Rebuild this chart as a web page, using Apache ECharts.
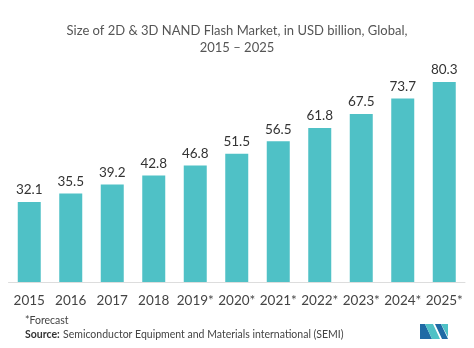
<!DOCTYPE html>
<html><head><meta charset="utf-8">
<script src="https://cdn.jsdelivr.net/npm/echarts@6/dist/echarts.min.js"></script>
<style>html,body{margin:0;padding:0;background:#fff}#c{width:474px;height:348px}</style>
</head><body><div id="c"></div>
<script>
const categories = ['2015','2016','2017','2018','2019*','2020*','2021*','2022*','2023*','2024*','2025*'];
const values = [32.1,35.5,39.2,42.8,46.8,51.5,56.5,61.8,67.5,73.7,80.3];
const titleLines = 'Size of 2D & 3D NAND Flash Market, in USD billion, Global,\n2015 – 2025';
const chart = echarts.init(document.getElementById('c'), null, {renderer:'canvas'});
const F = 'Lato, "Open Sans", sans-serif';
chart.setOption({
  animation:false,
  title:{text:titleLines,left:'center',top:17,textStyle:{fontFamily:F,fontWeight:'normal',fontSize:13,color:'#555',lineHeight:17}},
  grid:{left:8.5,right:9,top:33,bottom:66,containLabel:false},
  xAxis:{type:'category',data:categories,axisLine:{lineStyle:{color:'#ddd',width:1}},axisTick:{show:false},
    axisLabel:{fontFamily:F,fontSize:13.5,color:'#444',margin:12,interval:0}},
  yAxis:{type:'value',min:0,max:100,show:false,splitLine:{show:false}},
  series:[{type:'bar',data:values,barWidth:23,itemStyle:{color:'#4fc1c6'},
    label:{show:true,position:'top',distance:5,fontFamily:F,fontSize:13.5,color:'#333'}}],
  graphic:[
    {type:'text',left:25,top:315,style:{text:'*Forecast',font:'10.5px '+F,fill:'#444'}},
    {type:'text',left:25,top:329,style:{rich:{b:{fontWeight:'bold',fontSize:10.5,fontFamily:F,fill:'#333'},n:{fontSize:10.5,fontFamily:F,fill:'#444'}},text:'{b|Source:} {n|Semiconductor Equipment and Materials international (SEMI)}'}},
    {type:'polygon',shape:{points:[[420,324],[425,324],[432,339],[420,339]]},style:{fill:'#1f6aa5'}},
    {type:'polygon',shape:{points:[[425,324],[433,324],[440,339],[432,339]]},style:{fill:'#4fc1c6'}},
    {type:'polygon',shape:{points:[[435,324],[441,324],[448,339],[442,339]]},style:{fill:'#1f6aa5'}},
    {type:'polygon',shape:{points:[[441,324],[448,324],[448,337]]},style:{fill:'#4fc1c6'}}
  ]
});
</script></body></html>
